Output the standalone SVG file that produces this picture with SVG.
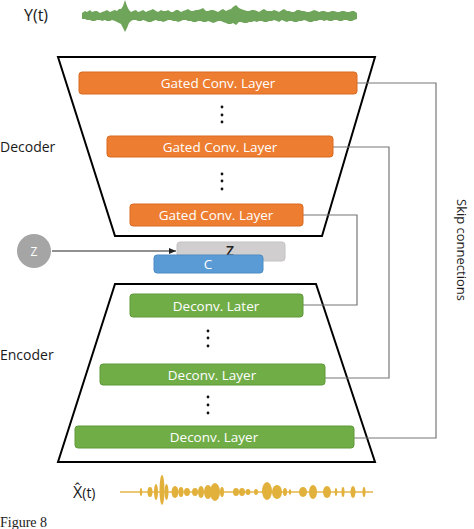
<svg xmlns="http://www.w3.org/2000/svg" width="474" height="529" viewBox="0 0 474 529">
<style>
.lbl{font-family:"Open Sans","Liberation Sans",sans-serif;font-size:14px;fill:#1a1a1a}
.bt{font-family:"Open Sans","Liberation Sans",sans-serif;font-size:13.5px;font-weight:500;fill:#ffffff;text-anchor:middle}
.or{fill:#ED7D31;stroke:#d96a22;stroke-width:1}
.gr{fill:#70AD47;stroke:#5e9a38;stroke-width:1}
.trap{fill:none;stroke:#000;stroke-width:2}
.skip{fill:none;stroke:#777;stroke-width:1.2}
.dot{fill:#111}
</style>
<defs>
<marker id="ah" markerWidth="8" markerHeight="8" refX="7" refY="4" orient="auto" markerUnits="userSpaceOnUse">
<path d="M0,1 L7,4 L0,7 Z" fill="#222"/>
</marker>
</defs>
<rect width="474" height="529" fill="#fff"/>

<!-- signals -->
<g id="y-signal">
<text class="lbl" x="24" y="21" style="font-size:16px">Y(t)</text>
<path fill="#6FA55A" d="M82,13 L85,11 L87,12 L90,10 L92,12 L95,11 L97,11 L100,13 L102,12 L105,11 L107,10 L110,12 L112,11 L115,10 L117,11 L119,9 L121,9 L123,6 L125,0 L127,6 L129,10 L131,12 L133,11 L136,10 L138,12 L141,11 L143,10 L146,12 L148,11 L151,10 L153,9 L156,11 L158,12 L161,10 L163,11 L166,11 L168,10 L171,12 L173,12 L176,10 L178,10 L181,12 L183,11 L186,10 L188,9 L191,11 L193,11 L196,10 L198,10 L201,9 L203,8 L206,11 L208,11 L211,10 L213,10 L216,11 L218,12 L221,10 L223,9 L226,11 L228,10 L231,9 L233,7 L236,5 L239,8 L241,9 L244,10 L247,11 L249,11 L252,10 L254,10 L257,11 L259,12 L262,10 L264,9 L267,11 L269,11 L272,11 L274,10 L277,11 L279,12 L282,10 L284,9 L287,11 L289,11 L292,12 L294,12 L297,10 L299,10 L302,11 L304,11 L307,12 L309,12 L312,11 L314,10 L317,11 L319,12 L322,11 L324,11 L327,12 L329,12 L332,11 L334,11 L337,12 L339,12 L342,11 L344,11 L347,12 L349,12 L352,11 L354,11 L357,13 L357,19 L354,20 L352,21 L349,21 L347,20 L344,20 L342,21 L339,21 L337,20 L334,20 L332,21 L329,21 L327,20 L324,21 L322,20 L319,20 L317,21 L314,21 L312,22 L309,22 L307,21 L304,20 L302,21 L299,21 L297,22 L294,22 L292,21 L289,21 L287,22 L284,21 L282,20 L279,22 L277,21 L274,20 L272,21 L269,21 L267,22 L264,22 L262,21 L259,21 L257,22 L254,21 L252,22 L249,22 L247,23 L244,23 L241,22 L239,22 L236,25 L233,23 L231,24 L228,24 L226,23 L223,22 L221,21 L218,21 L216,22 L213,23 L211,22 L208,21 L206,22 L203,22 L201,21 L198,21 L196,22 L193,22 L191,21 L188,21 L186,20 L183,20 L181,21 L178,22 L176,21 L173,21 L171,20 L168,20 L166,21 L163,22 L161,21 L158,21 L156,20 L153,21 L151,22 L148,22 L146,21 L143,20 L141,21 L138,21 L136,20 L133,20 L131,21 L129,23 L127,28 L125,32 L123,28 L121,24 L119,23 L117,22 L115,21 L112,20 L110,21 L107,21 L105,20 L102,21 L100,20 L97,20 L95,21 L92,21 L90,20 L87,20 L85,19 L82,19 Z"/>
</g>

<g id="x-signal">
<text class="lbl" x="73" y="498" style="font-size:16px">X̂<tspan style="font-size:14px">(t)</tspan></text>
<g fill="#E2B13C">
<rect x="120" y="491.3" width="253" height="1.4"/>
<ellipse cx="141" cy="492" rx="1.2" ry="4"/>
<ellipse cx="150" cy="492" rx="2.5" ry="5"/>
<ellipse cx="156" cy="492" rx="2" ry="8"/>
<ellipse cx="162" cy="490" rx="2.5" ry="15"/>
<ellipse cx="166.5" cy="492" rx="2" ry="8"/>
<ellipse cx="175" cy="492" rx="3.5" ry="6"/>
<ellipse cx="181" cy="492" rx="2.5" ry="5"/>
<ellipse cx="187" cy="492" rx="3" ry="4"/>
<ellipse cx="195" cy="492" rx="3" ry="4"/>
<ellipse cx="201" cy="492" rx="3" ry="6"/>
<ellipse cx="208" cy="492" rx="4" ry="7"/>
<ellipse cx="215" cy="492" rx="5" ry="9"/>
<ellipse cx="222" cy="492" rx="2" ry="5"/>
<ellipse cx="236" cy="492" rx="3" ry="4"/>
<ellipse cx="242" cy="492" rx="3" ry="4"/>
<ellipse cx="248" cy="492" rx="2.5" ry="3"/>
<ellipse cx="256" cy="492" rx="2" ry="3"/>
<ellipse cx="267" cy="491" rx="5" ry="9"/>
<ellipse cx="277" cy="492" rx="5" ry="7"/>
<ellipse cx="285" cy="492" rx="2" ry="4"/>
<ellipse cx="290" cy="492" rx="1.2" ry="3"/>
<ellipse cx="303" cy="492" rx="4" ry="5"/>
<ellipse cx="313" cy="492" rx="4" ry="7"/>
<ellipse cx="327" cy="492" rx="4" ry="6"/>
<ellipse cx="336" cy="492" rx="1.2" ry="4"/>
<ellipse cx="343" cy="492" rx="1.5" ry="5"/>
<ellipse cx="353" cy="492" rx="2.5" ry="6"/>
<ellipse cx="364" cy="492" rx="1.5" ry="5"/>
</g>
</g>

<!-- trapezoids -->
<g id="decoder">
<path class="trap" d="M58,57 L375,57 L322,236 L115,236 Z"/>
<text class="lbl" x="0" y="152">Decoder</text>
</g>
<g id="encoder">
<path class="trap" d="M115,284 L316,284 L375,462 L58,462 Z"/>
<text class="lbl" x="0" y="360">Encoder</text>
</g>

<!-- connectors -->
<g id="connectors">
<path class="skip" d="M357,83 L436,83 L436,438 L354,438"/>
<path class="skip" d="M333,147 L389,147 L389,378 L325,378"/>
<path class="skip" d="M303,215 L357,215 L357,305 L303,305"/>
<line x1="52" y1="251" x2="176" y2="251" stroke="#222" stroke-width="1" marker-end="url(#ah)"/>
</g>
<text class="lbl" transform="translate(457,250) rotate(90)" text-anchor="middle" style="font-size:13px">Skip connections</text>

<!-- decoder layers -->
<g id="gconv1"><rect class="or" x="79" y="72" width="278" height="22" rx="3"/><text class="bt" x="218" y="88">Gated Conv. Layer</text></g>
<g id="dots1"><circle class="dot" cx="222" cy="107" r="1.4"/><circle class="dot" cx="222" cy="115" r="1.4"/><circle class="dot" cx="222" cy="122" r="1.4"/></g>
<g id="gconv2"><rect class="or" x="107" y="136" width="226" height="21" rx="3"/><text class="bt" x="220" y="151.5">Gated Conv. Layer</text></g>
<g id="dots2"><circle class="dot" cx="222" cy="174" r="1.4"/><circle class="dot" cx="222" cy="181" r="1.4"/><circle class="dot" cx="222" cy="189" r="1.4"/></g>
<g id="gconv3"><rect class="or" x="130" y="204" width="173" height="22" rx="3"/><text class="bt" x="216" y="220">Gated Conv. Layer</text></g>

<!-- latent -->
<g id="zin"><circle cx="34" cy="251" r="17" fill="#A5A5A5"/><text class="bt" x="34" y="255.5" style="font-size:12px">Z</text></g>
<g id="zbox"><rect x="177" y="242" width="108" height="19" rx="3" fill="#D0CECE" stroke="#c4c2c2"/><text class="bt" x="230" y="256" style="fill:#222;font-size:14px;font-weight:600">Z</text></g>
<g id="cbox"><rect x="154" y="255" width="109" height="18" rx="3" fill="#5B9BD5" stroke="#4e8cc4"/><text class="bt" x="208" y="269">C</text></g>

<!-- encoder layers -->
<g id="deconv1"><rect class="gr" x="130" y="294" width="173" height="23" rx="3"/><text class="bt" x="216" y="310.5">Deconv. Later</text></g>
<g id="dots3"><circle class="dot" cx="208" cy="331" r="1.4"/><circle class="dot" cx="208" cy="338" r="1.4"/><circle class="dot" cx="208" cy="346" r="1.4"/></g>
<g id="deconv2"><rect class="gr" x="100" y="364" width="225" height="21" rx="3"/><text class="bt" x="212" y="379.5">Deconv. Layer</text></g>
<g id="dots4"><circle class="dot" cx="208" cy="397" r="1.4"/><circle class="dot" cx="208" cy="405" r="1.4"/><circle class="dot" cx="208" cy="413" r="1.4"/></g>
<g id="deconv3"><rect class="gr" x="75" y="426" width="279" height="22" rx="3"/><text class="bt" x="214" y="442">Deconv. Layer</text></g>

<text x="0" y="527" style="font-family:'Liberation Serif',serif;font-size:14px;fill:#222">Figure 8</text>
</svg>
